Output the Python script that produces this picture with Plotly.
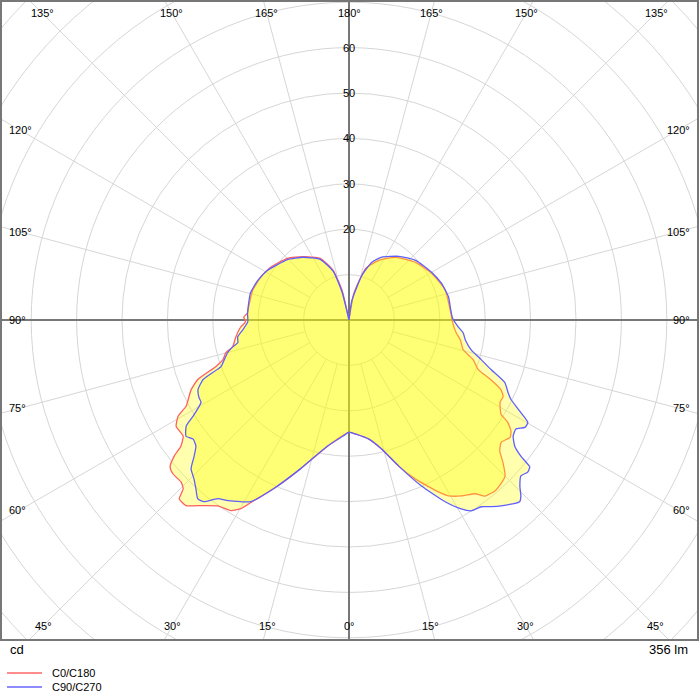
import numpy as np
import plotly.graph_objects as go

# ---------------- data (cd vs. gamma angle) ----------------
c0_gamma = [0, 3.5, 9.5, 14.2, 18.8, 22.7, 27.5, 29.5, 32.6, 36.0, 37.7, 40.5, 42.8, 45.0,
            47.3, 49.0, 51.2, 53.9, 55.5, 57.2, 58.2, 61.4, 63.6, 65.4, 67.2, 69.0, 72.3,
            75.4, 79.9, 83.1, 87.3, 95.6, 107.2, 119.5, 130.9, 143.3, 153.4, 161.9, 169.5, 180]
c0_cd = [24.7, 25.2, 26.6, 29.3, 34.0, 38.0, 42.7, 44.5, 46.0, 47.3, 49.0, 49.5, 49.2, 48.6,
         46.1, 44.0, 43.0, 43.9, 43.3, 41.6, 39.4, 37.9, 37.9, 36.8, 33.9, 30.5, 28.7,
         26.0, 24.9, 23.8, 23.0, 22.4, 22.2, 20.9, 19.4, 17.2, 14.7, 12.0, 6.0, 0]

c180_gamma = [0, 5.7, 12.3, 18.1, 23.3, 27.8, 29.8, 31.8, 35.2, 38.6, 41.3, 43.5, 44.5, 46.0,
              48.8, 50.6, 52.1, 53.1, 55.0, 58.4, 60.6, 62.1, 63.7, 66.2, 68.5, 70.7, 72.5,
              75.1, 77.0, 81.5, 86.3, 88.9, 91.6, 93.9, 97.3, 107.2, 115.8, 123.9, 135.0,
              144.3, 154.9, 162.3, 166.9, 180]
c180_cd = [24.7, 26.4, 29.8, 34.5, 39.8, 45.0, 47.9, 49.4, 50.1, 52.3, 54.4, 54.3, 52.1, 51.4,
           51.5, 51.0, 48.8, 46.3, 44.6, 44.7, 43.2, 40.6, 39.5, 38.0, 35.8, 31.1, 29.1,
           28.1, 26.3, 25.2, 23.9, 22.8, 23.2, 22.4, 22.3, 22.2, 21.6, 20.8, 19.2,
           17.2, 15.0, 11.5, 6.7, 0]

c90_gamma = [0, 3.5, 9.5, 14.2, 18.8, 23.6, 27.9, 30.7, 32.6, 35.3, 37.3, 39.3, 43.2, 44.3,
             45.8, 47.8, 49.6, 50.9, 51.6, 52.7, 54.7, 56.8, 58.6, 60.2, 61.7, 63.9, 65.5,
             68.1, 70.7, 73.3, 76.3, 80.3, 83.6, 86.4, 91.1, 96.7, 103.0, 111.7, 120.0,
             131.8, 142.0, 152.4, 158.4, 163.9, 171.5, 180]
c90_cd = [24.7, 25.2, 26.6, 29.3, 34.0, 39.9, 45.3, 48.4, 49.9, 50.4, 51.7, 52.9, 54.9, 54.2,
          52.5, 51.1, 51.7, 51.3, 48.3, 45.9, 44.3, 43.9, 45.4, 45.4, 43.0, 39.7, 38.5,
          37.0, 33.2, 30.4, 27.7, 26.0, 25.3, 24.1, 22.8, 22.5, 22.5, 21.9, 21.0,
          19.7, 17.8, 15.6, 13.7, 10.2, 4.4, 0]

c270_gamma = [0, 2.9, 9.8, 18.1, 24.1, 28.4, 30.8, 33.8, 36.3, 38.6, 40.2, 42.2, 44.3, 46.7,
              48.7, 50.5, 52.6, 54.5, 56.9, 58.3, 60.9, 62.7, 65.3, 67.8, 70.0, 71.3, 74.9,
              77.0, 78.4, 81.4, 84.7, 88.9, 93.9, 105.3, 113.5, 121.4, 134.5, 143.9, 154.6,
              162.0, 166.0, 180]
c270_cd = [24.7, 25.6, 28.2, 34.5, 40.7, 45.5, 46.6, 47.9, 48.8, 51.2, 51.6, 50.2, 48.9, 47.8,
           45.4, 43.7, 43.2, 44.1, 42.8, 40.4, 37.3, 37.2, 36.6, 34.7, 30.0, 29.3, 27.7,
           26.3, 25.0, 24.8, 23.5, 22.3, 22.4, 22.5, 21.9, 21.0, 19.0, 17.1, 14.8,
           11.3, 6.3, 0]

series_names = ["C0/C180", "C90/C270"]
ring_values = [10, 20, 30, 40, 50, 60, 70, 80, 90, 100, 110]
ring_labels = [20, 30, 40, 50, 60]
angle_ticks = [0, 15, 30, 45, 60, 75, 90, 105, 120, 135, 150, 165, 180]
unit_label = "cd"
flux_label = "356 lm"

# ---------------- layout geometry ----------------
W, H = 700, 700
ML, MR, MT, MB = 1, 2, 1, 60
PW, PH = W - ML - MR, H - MT - MB
CX, CY = 349, 320          # pixel position of the pole
S = 4.54                   # pixels per cd
xr = [(ML - CX) / S, (ML + PW - CX) / S]
yr = [-(MT + PH - CY) / S, (CY - MT) / S]

def px(xp):
    return (xp - ML) / PW

def py(yp):
    return 1 - (yp - MT) / PH

def outline(g_r, r_r, g_l, r_l):
    gr = np.radians(g_r)
    gl = np.radians(g_l)
    r_r = np.asarray(r_r, float)
    r_l = np.asarray(r_l, float)
    x = np.concatenate([r_r * np.sin(gr), (-r_l * np.sin(gl))[::-1]])
    y = np.concatenate([-r_r * np.cos(gr), (-r_l * np.cos(gl))[::-1]])
    return x, y

FONT = "Liberation Sans"
GRID = "#d6d6d6"
AX = "#777777"
RED = "rgb(255,95,95)"
BLUE = "rgb(95,95,255)"
FILL = "rgba(255,255,0,0.32)"

fig = go.Figure()

for (gr_, rr_, gl_, rl_), name, col in [
        ((c0_gamma, c0_cd, c180_gamma, c180_cd), series_names[0], RED),
        ((c90_gamma, c90_cd, c270_gamma, c270_cd), series_names[1], BLUE)]:
    x, y = outline(gr_, rr_, gl_, rl_)
    fig.add_trace(go.Scatter(x=x, y=y, mode="lines", fill="toself", fillcolor=FILL,
                             line=dict(color=col, width=1.3, shape="spline", smoothing=0.5),
                             name=name, showlegend=False, hoverinfo="skip"))

shapes = []
for rv in ring_values:
    shapes.append(dict(type="circle", xref="x", yref="y", x0=-rv, x1=rv, y0=-rv, y1=rv,
                       line=dict(color=GRID, width=1), layer="below"))
for g in range(0, 360, 15):
    a = np.radians(g)
    shapes.append(dict(type="line", xref="x", yref="y",
                       x0=10 * np.sin(a), y0=-10 * np.cos(a),
                       x1=200 * np.sin(a), y1=-200 * np.cos(a),
                       line=dict(color=GRID, width=1), layer="below"))
shapes.append(dict(type="line", xref="x", yref="y", x0=xr[0], x1=xr[1], y0=0, y1=0,
                   line=dict(color=AX, width=2), layer="below"))
shapes.append(dict(type="line", xref="x", yref="y", x0=0, x1=0, y0=yr[0], y1=yr[1],
                   line=dict(color=AX, width=2), layer="below"))
shapes.append(dict(type="rect", xref="paper", yref="paper", x0=0, x1=1, y0=0, y1=1,
                   line=dict(color=AX, width=2), layer="above"))
# legend samples
shapes.append(dict(type="line", xref="paper", yref="paper", x0=px(7), x1=px(42),
                   y0=py(673), y1=py(673), line=dict(color="rgb(255,140,140)", width=2)))
shapes.append(dict(type="line", xref="paper", yref="paper", x0=px(7), x1=px(42),
                   y0=py(687), y1=py(687), line=dict(color="rgb(140,140,255)", width=2)))

ann = []
TF = dict(family=FONT, size=11, color="#000000")
for v in ring_labels:
    ann.append(dict(x=0, y=v, xref="x", yref="y", text=str(v), showarrow=False,
                    font=TF, xanchor="center", yanchor="middle"))

ytop = (CY - 13) / S
ybot = -(626 - CY) / S
xleft = (7 - CX) / S
xright = (692 - CX) / S
xside = 72.5
for g in angle_ticks:
    sides = [1] if g in (0, 180) else [1, -1]
    a = np.radians(g)
    for sd in sides:
        dx, dy = sd * np.sin(a), -np.cos(a)
        if abs(dy) > 1e-9 and abs(dx / dy) * 67.5 <= xside:
            yy = ytop if dy > 0 else ybot
            xx = dx / dy * yy
            ann.append(dict(x=xx, y=yy, xref="x", yref="y", text=f"{g}°", showarrow=False,
                            font=TF, xanchor="center", yanchor="middle"))
        else:
            yy = dy / abs(dx) * xside
            xx = xleft if sd < 0 else xright
            ann.append(dict(x=xx, y=yy, xref="x", yref="y", text=f"{g}°", showarrow=False,
                            font=TF, xanchor="left" if sd < 0 else "right", yanchor="middle"))

ann.append(dict(x=px(8), y=py(649), xref="paper", yref="paper", text=unit_label,
                showarrow=False, font=dict(family=FONT, size=13, color="#000"),
                xanchor="left", yanchor="middle"))
ann.append(dict(x=px(690), y=py(649), xref="paper", yref="paper", text=flux_label,
                showarrow=False, font=dict(family=FONT, size=13, color="#000"),
                xanchor="right", yanchor="middle"))
for i, nm in enumerate(series_names):
    ann.append(dict(x=px(50), y=py(673 + 14 * i), xref="paper", yref="paper", text=nm,
                    showarrow=False, font=TF, xanchor="left", yanchor="middle"))

fig.update_layout(
    width=W, height=H, margin=dict(l=ML, r=MR, t=MT, b=MB),
    paper_bgcolor="white", plot_bgcolor="white",
    xaxis=dict(range=xr, visible=False, fixedrange=True),
    yaxis=dict(range=yr, visible=False, fixedrange=True),
    shapes=shapes, annotations=ann, showlegend=False,
)
fig.write_html("out.html", config=dict(displayModeBar=False),
               post_script="document.body.style.margin='0';document.body.style.overflow='hidden';")
